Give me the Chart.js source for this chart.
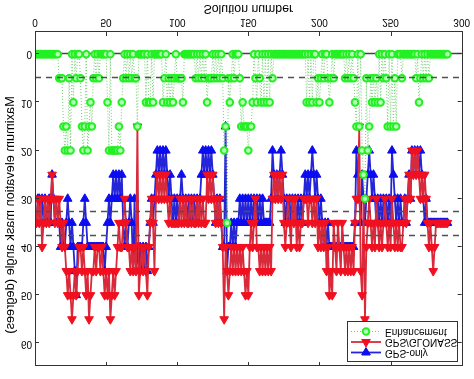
<!DOCTYPE html>
<html><head><meta charset="utf-8">
<script src="https://cdn.jsdelivr.net/npm/chart.js@4.4.1/dist/chart.umd.min.js"></script>
<style>html,body{margin:0;padding:0;background:#fff;overflow:hidden}
canvas{display:block;transform:scaleY(-1);}</style></head>
<body><canvas id="c" width="474" height="379"></canvas>
<script>
// Solution numbers (x categories)
const solutionNumbers = Array.from({length: 290}, (_, i) => i + 1);
const xTicks = [0, 50, 100, 150, 200, 250, 300];
const yTicks = [0, 10, 20, 30, 40, 50, 60];
const solidLevels = [0];
const dashedLevels = [5, 32.8, 37.7];

const enhancement = [
0,0,0,0,0,0,0,0,0,0, 0,0,0,0,0,0,5,5,5,15, 20,15,20,5,20,0,10,0,5,0, 0,5,15,20,15,0,20,15,10,15,
5,0,5,0,5,0,0,0,0,0, 10,20,0,20,20,20,20,20,15,20, 10,5,0,5,0,5,0,5,0,5, 5,15,0,0,0,0,0,10,0,10,
10,0,10,0,0,0,0,0,0,10, 5,0,10,5,10,5,10,5,0,5, 5,5,5,10,0,0,0,0,0,0, 0,0,5,0,5,0,5,0,5,0,
10,5,5,5,0,5,0,5,0,5, 0,5,20,15,35,5,10,5,0,5, 0,0,0,5,15,10,15,15,15,20, 15,15,10,0,5,10,0,5,10,0,
10,0,10,0,10,0,5,0,0,0, 0,0,0,0,0,0,0,0,0,0, 0,0,0,0,0,0,0,0,0,0, 10,0,10,0,10,0,0,10,5,10,
5,0,5,0,0,5,10,5,0,5, 0,0,0,0,0,0,0,5,0,5, 0,5,0,5,10,15,0,15,0,20, 25,30,5,20,15,5,10,5,10,5,
10,0,10,0,5,0,5,15,0,15, 0,15,5,15,0,0,0,5,0,0, 0,0,0,0,0,0,0,5,0,10, 5,0,5,0,5,0,5,0,0,0,
0,0,0,0,0,0,0,0,0,0];

const gpsGlonass = [
35,30,35,30,40,35,30,35,30,35, 30,25,30,35,30,35,30,35,40,35, 40,45,50,45,50,55,50,45,50,45, 40,40,45,40,45,50,45,55,50,45,
45,40,45,40,40,45,40,45,50,45, 50,45,55,50,45,50,45,40,35,40, 40,35,30,35,40,40,45,40,45,40, 45,15,50,45,40,45,40,45,50,40,
35,30,35,45,30,25,30,25,30,25, 30,25,30,35,30,35,35,35,35,35, 35,30,35,30,35,30,35,35,30,35, 30,35,35,30,35,30,35,30,35,35,
25,30,25,30,25,30,35,30,35,30, 35,40,55,40,45,50,45,40,45,40, 45,40,45,40,45,40,45,50,45,50, 40,35,40,35,30,40,40,45,40,45,
40,45,40,45,40,45,30,25,30,25, 30,25,30,25,35,40,35,30,35,40, 30,35,30,40,35,40,35,35,30,30, 30,35,30,30,35,30,35,30,40,35,
40,35,40,35,45,40,50,45,50,35, 40,45,35,40,45,35,40,45,40,45, 40,45,40,45,35,30,30,15,45,50, 30,55,40,35,30,35,40,35,40,30,
35,40,35,40,35,30,35,40,35,40, 30,35,40,35,40,35,40,40,35,30, 35,30,25,30,20,25,20,25,20,25, 30,25,30,25,30,35,40,35,40,45,
40,35,35,35,35,35,35,35,35,35];

const gpsOnly = [
35,30,30,35,30,35,30,35,35,30, 35,25,30,35,35,35,35,40,35,40, 40,35,30,35,40,35,40,45,50,40, 40,40,40,35,30,35,40,40,40,40,
40,40,40,40,40,40,40,40,45,40, 35,30,35,30,25,30,25,30,25,30, 25,35,40,35,40,35,30,35,45,30, 45,40,45,40,45,40,45,40,45,40,
35,30,35,30,25,20,25,20,25,20, 25,20,25,30,25,30,35,30,35,30, 35,30,25,30,35,30,35,30,35,30, 35,30,35,30,35,30,25,20,25,20,
25,20,25,20,25,30,35,30,35,30, 35,40,40,15,45,40,40,35,40,35, 40,35,35,30,35,30,35,30,35,30, 35,30,35,30,35,30,35,30,35,30,
35,35,35,35,35,30,20,25,30,25, 30,25,20,25,30,35,30,35,30,35, 30,35,30,35,30,35,30,35,30,25, 30,25,30,25,20,25,30,25,30,35,
30,35,40,35,40,35,40,40,40,40, 40,40,40,40,40,40,40,40,40,40, 40,40,40,40,35,20,25,30,35,25, 30,35,30,25,20,25,30,25,30,35,
30,35,30,35,30,35,30,35,30,35, 20,25,30,35,30,35,30,35,35,30, 35,30,25,30,20,25,20,25,20,25, 20,25,30,35,30,35,35,35,35,35,
35,35,35,35,35,35,35,35,35,35];

const seriesNames = ['GPS-only', 'GPS/GLONASS', 'Enhancement'];
const yTitle = 'Maximum elevation mask angle (degrees)';

const FONT = 'Liberation Sans, Arial, Helvetica, sans-serif';
const GREEN = '#22f022', RED = '#f01020', BLUE = '#0c0cf0';

const frame = {
  id: 'frame',
  beforeDatasetsDraw(chart) {
    const {ctx, chartArea: a, scales: {y}} = chart;
    ctx.save();
    ctx.strokeStyle = '#444'; ctx.lineWidth = 1.3;
    solidLevels.forEach(v => {
      const py = Math.round(y.getPixelForValue(v)) + 0.5;
      ctx.beginPath(); ctx.moveTo(a.left, py); ctx.lineTo(a.right, py); ctx.stroke();
    });
    ctx.restore();
  },
  afterDatasetsDraw(chart) {
    const {ctx, chartArea: a, scales: {x, y}} = chart;
    ctx.save();
    ctx.strokeStyle = '#505050'; ctx.lineWidth = 1.3; ctx.setLineDash([6, 5]);
    dashedLevels.forEach(v => {
      const py = Math.round(y.getPixelForValue(v)) + 0.5;
      ctx.beginPath(); ctx.moveTo(a.left, py); ctx.lineTo(a.right, py); ctx.stroke();
    });
    ctx.setLineDash([]);
    // box
    ctx.strokeStyle = '#333'; ctx.lineWidth = 1;
    ctx.strokeRect(Math.round(a.left) + 0.5, Math.round(a.top) + 0.5, Math.round(a.right - a.left), Math.round(a.bottom - a.top));
    // inward ticks
    const tl = 4;
    xTicks.forEach(v => {
      const px = Math.round(x.getPixelForValue(v)) + 0.5;
      ctx.beginPath();
      ctx.moveTo(px, a.bottom); ctx.lineTo(px, a.bottom - tl);
      ctx.moveTo(px, a.top); ctx.lineTo(px, a.top + tl);
      ctx.stroke();
    });
    yTicks.forEach(v => {
      const py = Math.round(y.getPixelForValue(v)) + 0.5;
      ctx.beginPath();
      ctx.moveTo(a.left, py); ctx.lineTo(a.left + tl, py);
      ctx.moveTo(a.right, py); ctx.lineTo(a.right - tl, py);
      ctx.stroke();
    });
    // y-axis title
    ctx.save();
    ctx.translate(10, 164); ctx.rotate(-Math.PI / 2);
    ctx.fillStyle = '#000'; ctx.font = '12.8px ' + FONT; ctx.textAlign = 'center'; ctx.textBaseline = 'middle';
    ctx.fillText(yTitle, 0, 0);
    ctx.restore();
    // legend
    const bx = 347.5, by = 17.5, bw = 110, bh = 40;
    ctx.fillStyle = '#fff'; ctx.fillRect(bx, by, bw, bh);
    ctx.strokeStyle = '#333'; ctx.strokeRect(bx, by, bw, bh);
    const rows = [26.5, 37, 47.5];
    chart.data.datasets.forEach((ds, i) => {
      const ly = rows[i];
      ctx.save();
      ctx.strokeStyle = ds.borderColor; ctx.lineWidth = ds.borderWidth;
      ctx.setLineDash(ds.borderDash || []);
      ctx.beginPath(); ctx.moveTo(351, ly); ctx.lineTo(381, ly); ctx.stroke();
      ctx.setLineDash([]);
      ctx.fillStyle = ds.pointBackgroundColor; ctx.strokeStyle = ds.pointBorderColor; ctx.lineWidth = ds.pointBorderWidth;
      Chart.helpers.drawPoint(ctx, {pointStyle: ds.pointStyle, radius: ds.pointRadius, rotation: ds.pointRotation || 0, borderWidth: ds.pointBorderWidth}, 366, ly);
      ctx.restore();
      ctx.fillStyle = '#000'; ctx.font = '10px ' + FONT; ctx.textBaseline = 'middle'; ctx.textAlign = 'left';
      ctx.fillText(ds.label, 385, ly);
    });
    ctx.restore();
  }
};

new Chart(document.getElementById('c'), {
  type: 'line',
  data: {
    labels: solutionNumbers,
    datasets: [
      {label: seriesNames[0], data: gpsOnly, borderColor: '#2424d8', borderWidth: 1.8,
       pointStyle: 'triangle', pointRotation: 180, pointRadius: 5,
       pointBackgroundColor: BLUE, pointBorderColor: BLUE, pointBorderWidth: 1, order: 2},
      {label: seriesNames[1], data: gpsGlonass, borderColor: '#d82a3a', borderWidth: 1.8,
       pointStyle: 'triangle', pointRadius: 5,
       pointBackgroundColor: RED, pointBorderColor: RED, pointBorderWidth: 1, order: 1},
      {label: seriesNames[2], data: enhancement, borderColor: '#70cc70', borderWidth: 1, borderDash: [1, 2],
       pointStyle: 'circle', pointRadius: 3.3, pointBackgroundColor: '#b8ffb8',
       pointBorderColor: GREEN, pointBorderWidth: 2, order: 0}
    ]
  },
  options: {
    responsive: false, animation: false, events: [],
    layout: {padding: {top: 13, right: 12, left: 0, bottom: 0}},
    plugins: {legend: {display: false}, tooltip: {enabled: false}},
    elements: {line: {tension: 0}},
    scales: {
      x: {type: 'linear', min: 0, max: 300,
        afterBuildTicks: s => { s.ticks = xTicks.map(v => ({value: v})); },
        afterFit: s => { s.height = 32; },
        grid: {display: false, drawTicks: false, tickLength: 0}, border: {display: false},
        ticks: {padding: 4, color: '#000', font: {family: FONT, size: 10}, maxRotation: 0},
        title: {display: true, text: 'Solution number', color: '#000', font: {family: FONT, size: 12.3}, padding: {top: 0, bottom: 1}}},
      y: {type: 'linear', min: -4.6, max: 64.7,
        afterBuildTicks: s => { s.ticks = yTicks.map(v => ({value: v})); },
        afterFit: s => { s.width = 35; },
        grid: {display: false, drawTicks: false, tickLength: 0}, border: {display: false},
        ticks: {padding: 3, color: '#000', font: {family: FONT, size: 10}},
        title: {display: false}}
    }
  },
  plugins: [frame]
});
</script></body></html>
